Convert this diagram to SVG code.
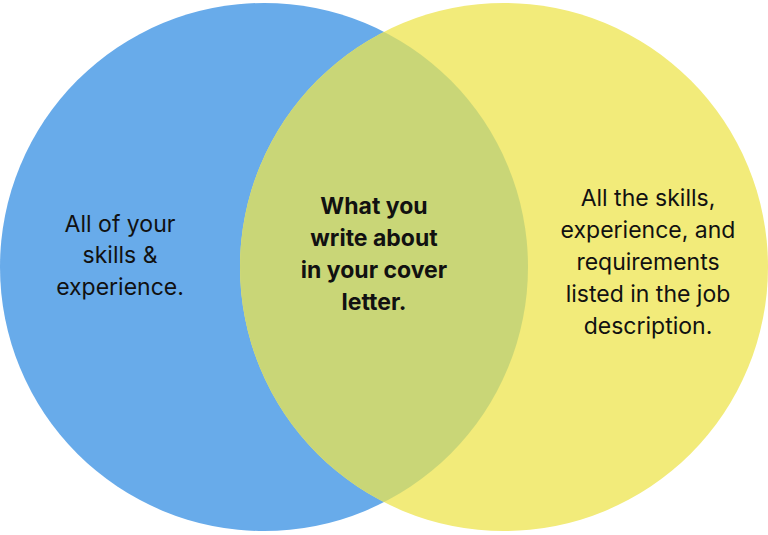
<svg xmlns="http://www.w3.org/2000/svg" width="768" height="535" viewBox="0 0 768 535">
<style>
text{font-family:Inter,"Liberation Sans",sans-serif;font-size:23px;fill:#111;text-anchor:middle}
.b{font-weight:bold}
</style>
<defs><clipPath id="cb"><circle cx="264" cy="267" r="264"/></clipPath></defs>
<rect width="768" height="535" fill="#fff"/>
<g id="blue"><circle cx="264" cy="267" r="264" fill="#68ABEA"/>
<text x="120" y="232">All of your</text><text x="120" y="263">skills &amp;</text><text x="120" y="295">experience.</text></g>
<g id="yellow"><circle cx="504" cy="267" r="264" fill="#F2EB7A"/>
<text x="648" y="206">All the skills,</text><text x="648" y="238">experience, and</text><text x="648" y="270">requirements</text><text x="648" y="302">listed in the job</text><text x="648" y="334">description.</text></g>
<g id="overlap"><circle cx="504" cy="267" r="264" fill="#C9D677" clip-path="url(#cb)"/>
<text class="b" x="374" y="214">What you</text><text class="b" x="374" y="246">write about</text><text class="b" x="374" y="278">in your cover</text><text class="b" x="374" y="310">letter.</text></g>
<g id="connectors"/>
</svg>
